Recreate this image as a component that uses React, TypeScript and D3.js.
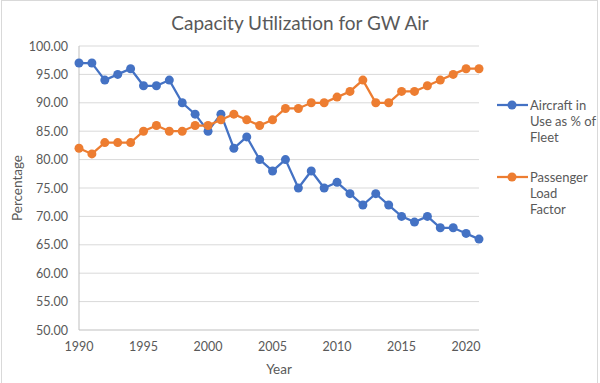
import React from "react";
import * as d3 from "d3";

const years = [1990,1991,1992,1993,1994,1995,1996,1997,1998,1999,2000,2001,2002,2003,2004,2005,2006,2007,2008,2009,2010,2011,2012,2013,2014,2015,2016,2017,2018,2019,2020,2021];
const aircraftInUse = [97,97,94,95,96,93,93,94,90,88,85,88,82,84,80,78,80,75,78,75,76,74,72,74,72,70,69,70,68,68,67,66];
const passengerLoad = [82,81,83,83,83,85,86,85,85,86,86,87,88,87,86,87,89,89,90,90,91,92,94,90,90,92,92,93,94,95,96,96];
const yTicks = [50,55,60,65,70,75,80,85,90,95,100];
const xTicks = [1990,1995,2000,2005,2010,2015,2020];

const series = [
  { name: ["Aircraft in", "Use as % of", "Fleet"], values: aircraftInUse, color: "#4472C4" },
  { name: ["Passenger", "Load", "Factor"], values: passengerLoad, color: "#ED7D31" },
];

export default function App() {
  const W = 600, H = 383;
  const x = d3.scaleLinear().domain([1990, 2021]).range([79, 479]);
  const y = d3.scaleLinear().domain([50, 100]).range([330, 46]);
  const line = d3.line<number>().x((_, i) => x(years[i])).y((d) => y(d));
  const font = "Lato, 'Open Sans', sans-serif";
  const txt = "#595959";
  const legendY = [105, 177];
  return (
    <svg width={W} height={H} style={{ position: "absolute", left: 0, top: 0, background: "#fff" }} fontFamily={font}>
      <rect x={1.5} y={0.5} width={596} height={390} fill="#fff" stroke="#d9d9d9" />
      <text x={300} y={30} textAnchor="middle" fontSize={19} fill={txt}>Capacity Utilization for GW Air</text>
      {yTicks.map((t) => (
        <g key={t}>
          <line x1={79} x2={479} y1={y(t)} y2={y(t)} stroke={t === 50 ? "#bfbfbf" : "#d9d9d9"} />
          <text x={68} y={y(t) + 4.5} textAnchor="end" fontSize={12.5} fill={txt}>{t.toFixed(2)}</text>
        </g>
      ))}
      <line x1={79} x2={79} y1={46} y2={330} stroke="#bfbfbf" />
      {xTicks.map((t) => (
        <text key={t} x={x(t)} y={351} textAnchor="middle" fontSize={12.5} fill={txt}>{t}</text>
      ))}
      <text x={279} y={374} textAnchor="middle" fontSize={13.5} fill={txt}>Year</text>
      <text transform="translate(22,188) rotate(-90)" textAnchor="middle" fontSize={13.5} fill={txt}>Percentage</text>
      {series.map((s) => (
        <g key={s.color}>
          <path d={line(s.values) || ""} fill="none" stroke={s.color} strokeWidth={2.25} />
          {s.values.map((v, i) => (
            <circle key={i} cx={x(years[i])} cy={y(v)} r={4.5} fill={s.color} />
          ))}
        </g>
      ))}
      {series.map((s, k) => (
        <g key={"l" + k}>
          <line x1={497} x2={528} y1={legendY[k]} y2={legendY[k]} stroke={s.color} strokeWidth={2.25} />
          <circle cx={512} cy={legendY[k]} r={4.5} fill={s.color} />
          {s.name.map((n, j) => (
            <text key={j} x={530} y={legendY[k] + 4.5 + j * 16} fontSize={13} fill={txt}>{n}</text>
          ))}
        </g>
      ))}
    </svg>
  );
}
